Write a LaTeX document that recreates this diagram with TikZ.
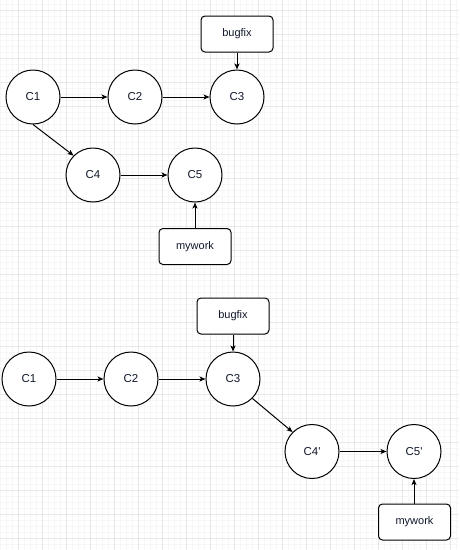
\documentclass[tikz,border=0pt]{standalone}
\usepackage{fontspec}
\setmainfont{Liberation Sans}[Ligatures=TeXOff]
\usetikzlibrary{arrows.meta}
\definecolor{minorgrid}{HTML}{F6F6F6}
\definecolor{majorgrid}{HTML}{E8E8E8}
\definecolor{txt}{HTML}{10182A}
\begin{document}
\begin{tikzpicture}[x=1pt,y=-1pt,
  commit/.style={circle,draw=black,line width=1pt,minimum size=54pt,inner sep=0pt,
    font=\fontsize{11.5}{13}\selectfont,text=txt,fill=white},
  ref/.style={rectangle,rounded corners=4pt,draw=black,line width=1pt,minimum width=72pt,
    minimum height=36pt,inner sep=0pt,font=\fontsize{11}{13}\selectfont,text=txt,fill=white},
  link/.style={line width=1pt,-{Stealth[length=6pt,width=5pt,inset=1.5pt]}}]
\useasboundingbox (0,0) rectangle (459,550);
\fill[white] (0,0) rectangle (459,550);
\foreach \i in {0,...,76} { \draw[minorgrid,line width=0.6pt] (0.7+6*\i,0) -- (0.7+6*\i,550); }
\foreach \i in {0,...,90} { \draw[minorgrid,line width=0.6pt] (0,4.7+6*\i) -- (459,4.7+6*\i); }
\foreach \i in {0,...,18} { \draw[majorgrid,line width=0.8pt] (18.7+24*\i,0) -- (18.7+24*\i,550); }
\foreach \i in {0,...,22} { \draw[majorgrid,line width=0.8pt] (0,10.7+24*\i) -- (459,10.7+24*\i); }

% top diagram
\node[commit] (c1) at (33,97) {C1};
\node[commit] (c2) at (135,97) {C2};
\node[commit] (c3) at (237,97) {C3};
\node[ref] (bugfix) at (237,34) {bugfix};
\node[commit] (c4) at (93,175) {C4};
\node[commit] (c5) at (195,175) {C5};
\node[ref] (mywork) at (195,246.5) {mywork};
\draw[link] (c1) -- (c2);
\draw[link] (c2) -- (c3);
\draw[link] (bugfix) -- (c3);
\draw[link] (c1.south) -- (c4.north west);
\draw[link] (c4) -- (c5);
\draw[link] (mywork) -- (c5);

% bottom diagram
\node[commit] (d1) at (29,379) {C1};
\node[commit] (d2) at (131,379) {C2};
\node[commit] (d3) at (233,379) {C3};
\node[ref] (bugfixb) at (233,316) {bugfix};
\node[commit] (d4) at (312,451.5) {C4'};
\node[commit] (d5) at (414,451.5) {C5'};
\node[ref] (myworkb) at (414.5,522) {mywork};
\draw[link] (d1) -- (d2);
\draw[link] (d2) -- (d3);
\draw[link] (bugfixb) -- (d3);
\draw[link] (d3.south east) -- (d4.north west);
\draw[link] (d4) -- (d5);
\draw[link] (myworkb.north -| d5) -- (d5);
\end{tikzpicture}
\end{document}
